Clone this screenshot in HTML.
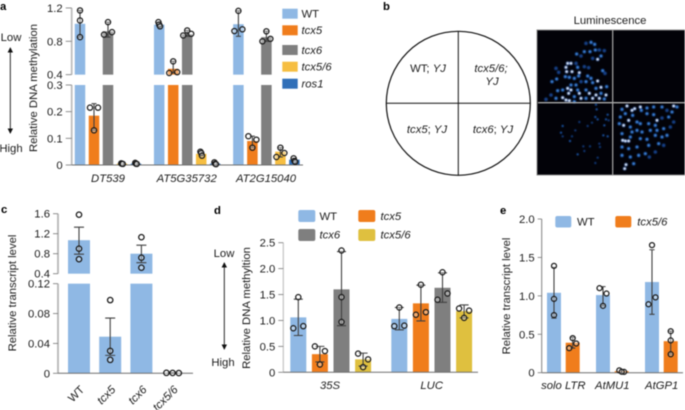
<!DOCTYPE html>
<html lang="en">
<head>
<meta charset="utf-8">
<title>TCX5 and TCX6 DNA methylation and transcript figure</title>
<style>
html,body{margin:0;padding:0;background:#fff;width:685px;height:410px;overflow:hidden}
svg{display:block;filter:blur(0.4px)}
text{font-family:"Liberation Sans",sans-serif;font-size:11.3px;fill:#1c1c1c}
.i{font-style:italic}
.b{font-weight:bold;fill:#000}
</style>
</head>
<body>
<svg id="fig" xmlns="http://www.w3.org/2000/svg" width="685" height="410" viewBox="0 0 685 410">
<defs>
<marker id="ah" markerWidth="6" markerHeight="6" refX="5" refY="3" orient="auto-start-reverse"><path d="M0,0 L6,3 L0,6 Z" fill="#111"/></marker>
<filter id="glow" x="-5%" y="-5%" width="110%" height="110%"><feGaussianBlur stdDeviation="0.6"/></filter>
</defs>

<g>
<text class="b" x="0" y="10">a</text>
<text class="b" x="383" y="10">b</text>
<text class="b" x="1" y="213">c</text>
<text class="b" x="214" y="214">d</text>
<text class="b" x="500" y="214">e</text>
</g>

<g id="panelA">
<text x="11" y="41" text-anchor="middle">Low</text>
<text x="11" y="152" text-anchor="middle">High</text>
<line x1="10.3" y1="48" x2="10.3" y2="133" stroke="#111" stroke-width="0.9" marker-start="url(#ah)" marker-end="url(#ah)"/>
<text transform="translate(37,88) rotate(-90)" text-anchor="middle">Relative DNA methylation</text>
<g>
<rect x="282.3" y="8.7" width="15.4" height="10" fill="#8fb8e4"/><text x="301.5" y="17.6">WT</text>
<rect x="282.3" y="25.3" width="15.4" height="10" fill="#f07d1c"/><text class="i" x="301.5" y="34.2">tcx5</text>
<rect x="282.3" y="45" width="15.4" height="10" fill="#7f7f7f"/><text class="i" x="301.5" y="53.9">tcx6</text>
<rect x="282.3" y="61.7" width="15.4" height="10" fill="#f6be41"/><text class="i" x="301.5" y="70.6">tcx5/6</text>
<rect x="282.3" y="78.7" width="15.4" height="10" fill="#2f6fb8"/><text class="i" x="301.5" y="87.6">ros1</text>
</g>
</g>

<g id="panelB">
<circle cx="458.3" cy="103.3" r="72" fill="#fff" stroke="#111" stroke-width="1.2"/>
<line x1="458.3" y1="31.3" x2="458.3" y2="175.3" stroke="#111" stroke-width="1"/>
<line x1="386.3" y1="103.3" x2="530.3" y2="103.3" stroke="#111" stroke-width="1"/>
<text x="428" y="72" text-anchor="middle">WT; <tspan class="i">YJ</tspan></text>
<text class="i" x="491" y="72" text-anchor="middle">tcx5/6;</text>
<text class="i" x="492" y="85" text-anchor="middle">YJ</text>
<text x="427" y="133" text-anchor="middle"><tspan class="i">tcx5</tspan>; <tspan class="i">YJ</tspan></text>
<text x="493" y="133" text-anchor="middle"><tspan class="i">tcx6</tspan>; <tspan class="i">YJ</tspan></text>
<text x="610" y="24" text-anchor="middle">Luminescence</text>
<rect x="537" y="30" width="148" height="145" fill="#020208" stroke="#8a8a8a" stroke-width="1"/>
<g id="lum" filter="url(#glow)"></g>
<line x1="612.7" y1="30" x2="612.7" y2="175" stroke="#a8a8a8" stroke-width="1.2"/>
<line x1="538" y1="102.7" x2="685" y2="102.7" stroke="#a8a8a8" stroke-width="1.4"/>
</g>

<g id="panelC">
<text transform="translate(16,293) rotate(-90)" text-anchor="middle">Relative transcript level</text>
</g>

<g id="panelD">
<text x="224" y="257" text-anchor="middle">Low</text>
<text x="223" y="366" text-anchor="middle">High</text>
<line x1="224.3" y1="263" x2="224.3" y2="349" stroke="#111" stroke-width="0.9" marker-start="url(#ah)" marker-end="url(#ah)"/>
<text transform="translate(250,308) rotate(-90)" text-anchor="middle">Relative DNA methyltion</text>
<g>
<rect x="298.3" y="210" width="17" height="12" rx="2" fill="#8fb8e4"/><text x="319.5" y="220">WT</text>
<rect x="358.3" y="210" width="17" height="12" rx="2" fill="#f07d1c"/><text class="i" x="380.5" y="220">tcx5</text>
<rect x="298.3" y="229" width="17" height="12" rx="2" fill="#7f7f7f"/><text class="i" x="319.5" y="238.5">tcx6</text>
<rect x="358.3" y="229" width="17" height="12" rx="2" fill="#dfc03f"/><text class="i" x="380.5" y="238.5">tcx5/6</text>
</g>
</g>

<g id="panelE">
<text transform="translate(510,296) rotate(-90)" text-anchor="middle">Relative transcript level</text>
<g>
<rect x="555.3" y="216" width="16" height="11.5" rx="2" fill="#8fb8e4"/><text x="577" y="225.5">WT</text>
<rect x="615.3" y="216" width="16" height="11.5" rx="2" fill="#f07d1c"/><text class="i" x="637.3" y="225.5">tcx5/6</text>
</g>
</g>
</svg>

<script>
// ---------- Panel a data ----------
const aCategories = ["DT539", "AT5G35732", "AT2G15040"];
const aTickValues = [1.2, 0.8, 0.4, 0.3, 0.2, 0.1, 0];
const aTickLabels = ["1.2", "0.8", "0.4", "0.3", "0.2", "0.1", "0"];
const aBarsWT = [1.01, 1.0, 1.005];
const aBarsTcx5 = [0.185, 0.47, 0.09];
const aBarsTcx6 = [0.92, 0.885, 0.85];
const aBarsTcx56 = [0.005, 0.042, 0.05];
const aBarsRos1 = [0.005, 0.005, 0.02];
const aPointsWT = [[1.17, 1.05, 0.85], [1.03, 1.0, 0.98], [1.165, 0.923, 0.944]];
const aPointsTcx5 = [[0.215, 0.215, 0.13], [0.56, 0.42, 0.43], [0.108, 0.095, 0.065]];
const aPointsTcx6 = [[1.03, 0.88, 0.91], [0.93, 0.87, 0.89], [0.92, 0.8, 0.83]];
const aPointsTcx56 = [[0.006, 0.005, 0.004], [0.05, 0.045, 0.035], [0.065, 0.03, 0.045]];
const aPointsRos1 = [[0.008, 0.005, 0.004], [0.01, 0.005, 0.003], [0.025, 0.015, 0.012]];
const aErrorWT = [[1.17, 0.85], [1.03, 0.98], [1.165, 0.86]];
const aErrorTcx5 = [[0.23, 0.13], [0.56, 0.42], [0.108, 0.065]];
const aErrorTcx6 = [[1.03, 0.85], [0.93, 0.86], [0.92, 0.8]];
const aErrorTcx56 = [[0.006, 0.004], [0.05, 0.035], [0.065, 0.03]];
const aErrorRos1 = [[0.008, 0.004], [0.01, 0.003], [0.025, 0.012]];

// ---------- Panel c data ----------
const cCategories = ["WT", "tcx5", "tcx6", "tcx5/6"];
const cTickValues = [1.6, 1.2, 0.8, 0.4, 0.12, 0.08, 0.04, 0];
const cTickLabels = ["1.6", "1.2", "0.8", "0.4", "0.12", "0.08", "0.04", "0"];
const cBars = [1.07, 0.049, 0.8, 0.0005];
const cPoints = [[1.58, 0.9, 0.69], [0.098, 0.03, 0.018], [1.13, 0.72, 0.52], [0.0006, 0.0003, 0.0005]];
const cError = [[1.33, 0.79], [0.074, 0.024], [0.97, 0.62], [0.0006, 0.0003]];

// ---------- Panel d data ----------
const dCategories = ["35S", "LUC"];
const dTickValues = [2.5, 2.0, 1.5, 1.0, 0.5, 0];
const dTickLabels = ["2.5", "2.0", "1.5", "1.0", "0.5", "0"];
const dBarsWT = [1.06, 1.03];
const dBarsTcx5 = [0.35, 1.33];
const dBarsTcx6 = [1.6, 1.63];
const dBarsTcx56 = [0.25, 1.18];
const dPointsWT = [[1.45, 0.85, 0.89], [1.25, 0.89, 0.9]];
const dPointsTcx5 = [[0.5, 0.41, 0.15], [1.69, 1.11, 1.16]];
const dPointsTcx6 = [[2.35, 1.45, 0.97], [1.93, 1.4, 1.52]];
const dPointsTcx56 = [[0.36, 0.1, 0.25], [1.05, 1.23, 1.19]];
const dErrorWT = [[1.41, 0.71], [1.25, 0.82]];
const dErrorTcx5 = [[0.5, 0.2], [1.68, 0.99]];
const dErrorTcx6 = [[2.33, 0.9], [1.92, 1.35]];
const dErrorTcx56 = [[0.37, 0.12], [1.3, 1.05]];

// ---------- Panel e data ----------
const eCategories = ["solo LTR", "AtMU1", "AtGP1"];
const eTickValues = [2.0, 1.5, 1.0, 0.5, 0];
const eTickLabels = ["2.0", "1.5", "1.0", "0.5", "0"];
const eBarsWT = [1.04, 1.01, 1.18];
const eBarsTcx56 = [0.39, 0.02, 0.41];
const ePointsWT = [[1.39, 0.96, 0.75], [1.1, 1.03, 0.87], [1.66, 0.89, 0.98]];
const ePointsTcx56 = [[0.45, 0.32, 0.38], [0.03, 0.01, 0.012], [0.54, 0.42, 0.24]];
const eErrorWT = [[1.37, 0.71], [1.12, 0.87], [1.6, 0.76]];
const eErrorTcx56 = [[0.46, 0.32], [0.03, 0.0], [0.54, 0.24]];

const COLORS = { wt: "#8fb8e4", tcx5: "#f07d1c", tcx6: "#7f7f7f", tcx56a: "#f6be41", tcx56d: "#dfc03f", ros1: "#2f6fb8" };
const NS = "http://www.w3.org/2000/svg";

function mk(tag, attrs, parent) {
  const el = document.createElementNS(NS, tag);
  for (const k in attrs) el.setAttribute(k, attrs[k]);
  parent.appendChild(el);
  return el;
}

// Horizontal spread of replicate points: close points sit side by side.
function swarm(vals, y, pairDx, clusterDx) {
  const ys = vals.map(y);
  const off = vals.map(() => 0);
  const order = vals.map((_, i) => i).sort((p, q) => ys[p] - ys[q]);
  if (ys[order[2]] - ys[order[0]] < 5) {
    off[order[0]] = -clusterDx;
    off[order[2]] = clusterDx;
    return off;
  }
  let best = null, gap = 7;
  for (let i = 0; i < 3; i++) for (let j = i + 1; j < 3; j++) {
    const g = Math.abs(ys[i] - ys[j]);
    if (g < gap) { gap = g; best = [i, j]; }
  }
  if (best) { off[best[0]] = -pairDx; off[best[1]] = pairDx; }
  return off;
}

function drawPanel(cfg) {
  const root = document.getElementById(cfg.root);

  // axis spines
  cfg.spines.forEach(function (s) {
    const spine = mk("line", { x1: cfg.axisX, x2: cfg.axisX, y1: cfg.y(s[0]), y2: cfg.y(s[1]), stroke: cfg.spineColor, "stroke-width": cfg.spineWidth }, root);
    
    
  });

  // bars
  cfg.series.forEach(function (ser, s) {
    ser.bars.forEach(function (v, g) {
      const cx = cfg.x(g, s);
      const segs = cfg.breakAt && v > cfg.breakAt[1]
        ? [[cfg.breakAt[1], v], [0, cfg.breakAt[0]]]
        : [[0, v]];
      segs.forEach(function (seg) {
        const top = cfg.y(seg[1]), bot = cfg.y(seg[0]);
        const bar = mk("rect", { x: cx - cfg.barW / 2, y: top, width: cfg.barW, height: Math.max(bot - top, 0.4), fill: ser.color }, root);
        
        
      });
    });
  });

  // baseline
  const base = mk("line", { x1: cfg.axisX, x2: cfg.baseEnd, y1: cfg.y(0), y2: cfg.y(0), stroke: "#6f6f6f", "stroke-width": 1 }, root);
  
  

  // y ticks
  cfg.tickValues.forEach(function (v, i) {
    const ty = cfg.y(v);
    const tick = mk("line", { x1: cfg.axisX - cfg.tickLen, x2: cfg.axisX, y1: ty, y2: ty, stroke: "#777", "stroke-width": 0.8 }, root);
    
    
    const lab = mk("text", { x: cfg.axisX - cfg.tickLen - 3, y: ty + 4, "text-anchor": "end" }, root);
    lab.textContent = cfg.tickLabels[i];
    
    
  });

  // error bars and replicate points
  cfg.series.forEach(function (ser, s) {
    ser.err.forEach(function (e, g) {
      const cx = cfg.x(g, s);
      const hi = cfg.y(e[0]), lo = cfg.y(e[1]);
      const err = mk("path", {
        d: "M" + cx + "," + hi + "V" + lo +
           "M" + (cx - cfg.cap) + "," + hi + "H" + (cx + cfg.cap) +
           "M" + (cx - cfg.cap) + "," + lo + "H" + (cx + cfg.cap),
        stroke: "#404040", "stroke-width": 1.1, fill: "none"
      }, root);
      
      
    });
    ser.pts.forEach(function (vals, g) {
      const cx = cfg.x(g, s);
      const off = swarm(vals, cfg.y, cfg.pairDx, cfg.clusterDx);
      vals.forEach(function (v, i) {
        const pt = mk("circle", { cx: cx + off[i], cy: cfg.y(v), r: cfg.r, fill: "rgba(255,255,255,0.35)", stroke: "#1a1a1a", "stroke-width": 1.25 }, root);
        
        
      });
    });
  });

  // category labels
  cfg.categories.forEach(function (c, g) {
    if (cfg.rotated) {
      const cx = cfg.x(g, 0);
      const lab = mk("text", { transform: "translate(" + (cx + 6) + "," + (cfg.y(0) + 17) + ") rotate(-45)", "text-anchor": "end", class: g === 0 ? "" : "i" }, root);
      lab.textContent = c;
      
      
    } else {
      const lab = mk("text", { x: cfg.catX(g), y: cfg.catY, "text-anchor": "middle", class: "i" }, root);
      lab.textContent = c;
      
      
    }
  });
}

// ---------- Axis functions ----------
function yA(v) { return v >= 0.4 ? 41.3 + (0.8 - v) * 83.4 : 165 - v * 266.7; }
function yC(v) { return v >= 0.4 ? 253.7 - (v - 0.8) * 50 : 373.3 - v * 747; }
function yD(v) { return 372.3 - v * 51.84; }
function yE(v) { return 372.7 - v * 76.85; }

drawPanel({
  root: "panelA", categories: aCategories, tickValues: aTickValues, tickLabels: aTickLabels,
  series: [
    { color: COLORS.wt, bars: aBarsWT, pts: aPointsWT, err: aErrorWT },
    { color: COLORS.tcx5, bars: aBarsTcx5, pts: aPointsTcx5, err: aErrorTcx5 },
    { color: COLORS.tcx6, bars: aBarsTcx6, pts: aPointsTcx6, err: aErrorTcx6 },
    { color: COLORS.tcx56a, bars: aBarsTcx56, pts: aPointsTcx56, err: aErrorTcx56 },
    { color: COLORS.ros1, bars: aBarsRos1, pts: aPointsRos1, err: aErrorRos1 }
  ],
  x: function (g, s) { return 80 + g * 79.2 + s * 14; },
  y: yA, breakAt: [0.3, 0.4], barW: 10.5, axisX: 71.7, baseEnd: 303, tickLen: 6,
  spines: [[1.2, 0.4], [0.3, 0]], spineColor: "#bdbdbd", spineWidth: 1.8,
  cap: 2.5, r: 2.6, pairDx: 4, clusterDx: 0.8,
  catX: function (g) { return [108, 186.7, 266][g]; }, catY: 182
});

drawPanel({
  root: "panelC", categories: cCategories, tickValues: cTickValues, tickLabels: cTickLabels,
  series: [{ color: COLORS.wt, bars: cBars, pts: cPoints, err: cError }],
  x: function (g, s) { return 79 + g * 31.2; },
  y: yC, breakAt: [0.12, 0.4], barW: 22, axisX: 58, baseEnd: 193, tickLen: 5,
  spines: [[1.6, 0.4], [0.12, 0]], spineColor: "#bdbdbd", spineWidth: 2,
  cap: 5, r: 2.7, pairDx: 4, clusterDx: 6.2, rotated: true
});

drawPanel({
  root: "panelD", categories: dCategories, tickValues: dTickValues, tickLabels: dTickLabels,
  series: [
    { color: COLORS.wt, bars: dBarsWT, pts: dPointsWT, err: dErrorWT },
    { color: COLORS.tcx5, bars: dBarsTcx5, pts: dPointsTcx5, err: dErrorTcx5 },
    { color: COLORS.tcx6, bars: dBarsTcx6, pts: dPointsTcx6, err: dErrorTcx6 },
    { color: COLORS.tcx56d, bars: dBarsTcx56, pts: dPointsTcx56, err: dErrorTcx56 }
  ],
  x: function (g, s) { return 298.3 + g * 101 + s * 21.6; },
  y: yD, barW: 16, axisX: 283.3, baseEnd: 478, tickLen: 5,
  spines: [[2.5, 0]], spineColor: "#cccccc", spineWidth: 1.4,
  cap: 4.5, r: 2.6, pairDx: 5, clusterDx: 1,
  catX: function (g) { return [330, 431.7][g]; }, catY: 389
});

drawPanel({
  root: "panelE", categories: eCategories, tickValues: eTickValues, tickLabels: eTickLabels,
  series: [
    { color: COLORS.wt, bars: eBarsWT, pts: ePointsWT, err: eErrorWT },
    { color: COLORS.tcx5, bars: eBarsTcx56, pts: ePointsTcx56, err: eErrorTcx56 }
  ],
  x: function (g, s) { return 554 + g * 49 + s * 18.7; },
  y: yE, barW: 14, axisX: 541.7, baseEnd: 683, tickLen: 4,
  spines: [[2.0, 0]], spineColor: "#808080", spineWidth: 1,
  cap: 2.6, r: 2.5, pairDx: 3.5, clusterDx: 2.4,
  catX: function (g) { return [563.3, 612.3, 661.7][g]; }, catY: 389
});

// ---------- Luminescence photo spots (decorative image content) ----------
const lumUpperLeft = [[150,40,1],[165,37,2],[176,43,2],[190,60,1],[205,62,1],[122,72,2],[135,78,1],[145,65,2],[162,65,2],[178,60,2],[195,78,2],[185,88,3],[170,85,1],[120,100,1],[95,100,3],[105,100,3],[90,112,3],[92,125,3],[108,125,3],[125,112,2],[130,128,3],[128,138,2],[145,110,1],[158,113,1],[200,122,2],[207,130,1],[60,115,1],[68,127,1],[48,155,2],[62,147,2],[88,140,2],[100,142,2],[115,145,2],[135,155,1],[155,138,2],[165,145,2],[150,155,2],[170,158,2],[185,153,3],[120,165,2],[105,165,2],[65,182,2],[80,180,2],[95,175,3],[98,190,3],[105,180,3],[125,180,2],[130,190,3],[150,180,2],[160,190,3],[180,175,2],[195,172,3],[212,170,2],[180,195,3],[195,190,2],[210,195,3],[135,205,3],[150,205,2],[170,205,3],[90,210,3],[100,212,3],[80,203,3],[115,200,2],[60,205,2],[45,195,1],[30,208,1],[190,205,3],[205,207,2],[115,215,2]];
const lumLowerRight = [[22,65,2],[25,45,2],[45,12,3],[30,22,2],[60,25,3],[68,20,3],[62,40,2],[85,15,3],[88,25,2],[105,18,2],[125,15,2],[150,15,2],[165,25,1],[185,12,3],[195,15,2],[180,30,2],[40,35,2],[50,55,3],[35,70,3],[55,75,2],[75,60,2],[85,65,2],[105,35,2],[125,38,2],[135,55,3],[130,70,2],[150,48,1],[170,45,2],[185,60,1],[110,65,2],[90,90,2],[75,85,2],[115,85,2],[135,85,2],[155,80,2],[175,75,1],[40,117,3],[50,117,3],[32,115,3],[55,105,2],[60,90,2],[30,95,2],[85,110,2],[105,112,2],[130,100,2],[150,105,2],[165,100,2],[140,125,2],[110,130,2],[75,135,2],[50,140,2],[30,135,2],[155,130,1],[100,155,2],[130,150,1],[80,160,2],[55,165,2],[30,160,2],[65,185,2],[42,188,3],[38,200,3],[112,165,1]];
const lumLowerLeft = [[180,8,2],[182,22,2],[178,45,2],[185,52,2],[215,38,2],[210,52,2],[218,55,1],[168,62,1],[205,70,2],[155,72,1],[80,72,2],[75,92,2],[80,103,1],[108,103,1],[118,85,1],[130,60,1],[102,117,2],[125,157,2],[145,147,1],[142,133,1],[162,133,1],[190,125,1],[202,100,2],[215,103,2],[185,167,1],[178,183,1],[192,135,1]];

function drawSpots(list, ox, oy, dim) {
  const g = document.getElementById("lum");
  list.forEach(function (d) {
    const cx = ox + d[0] / 3, cy = oy + d[1] / 3, lvl = d[2];
    const outer = mk("circle", { cx: cx, cy: cy, r: dim ? 1.1 : 1.8, fill: lvl === 1 ? "#123f86" : "#1f5cb4" }, g);
    
    
    if (lvl > 1 && !dim) {
      const core = mk("circle", { cx: cx, cy: cy, r: lvl === 3 ? 1.2 : 0.7, fill: lvl === 3 ? "#eaf5ff" : "#5fa4e6" }, g);
      
      
    }
  });
}
drawSpots(lumUpperLeft, 536, 30, false);
drawSpots(lumLowerRight, 612, 102, false);
drawSpots(lumLowerLeft, 536, 102, true);
</script>
</body>
</html>
